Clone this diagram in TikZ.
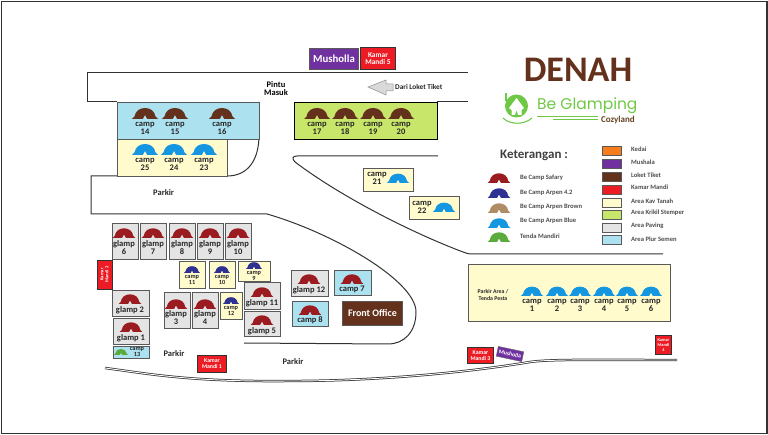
\documentclass[tikz,border=0pt]{standalone}
\usepackage{fontspec}
\setmainfont{Carlito}
\newfontfamily\logofont{Poppins}
\usetikzlibrary{positioning}
\definecolor{TenahYellow}{RGB}{255, 251, 204}
\definecolor{KrikilGreen}{RGB}{200, 230, 105}
\definecolor{PavingGray}{RGB}{228, 228, 228}
\definecolor{SemenBlue}{RGB}{172, 226, 240}
\definecolor{KedaiOrange}{RGB}{245, 125, 30}
\definecolor{MushalaPurple}{RGB}{112, 48, 160}
\definecolor{LoketBrown}{RGB}{100, 50, 28}
\definecolor{MandiRed}{RGB}{237, 28, 36}
\definecolor{TentSafary}{RGB}{155, 28, 32}
\definecolor{TentNavy}{RGB}{46, 49, 146}
\definecolor{TentTan}{RGB}{176, 140, 100}
\definecolor{TentBlue}{RGB}{20, 150, 225}
\definecolor{TentGreen}{RGB}{90, 170, 60}
\definecolor{LogoGreen}{RGB}{110, 200, 70}
\definecolor{RoadLine}{RGB}{50, 50, 50}
\tikzset{
  zone/.style={draw=black!65, line width=0.9pt, anchor=north west, inner sep=0pt},
  tag/.style={font=\bfseries\fontsize{8.5}{8}\selectfont, align=center, inner sep=0pt, text=black!85},
  tinytag/.style={font=\bfseries\fontsize{6.3}{6}\selectfont, align=center, inner sep=0pt, text=black!85},
  legendtag/.style={font=\bfseries\fontsize{6.6}{7}\selectfont, anchor=west, inner sep=0pt, text=black!70},
  mandi/.style={draw=black!80, fill=MandiRed, line width=0.9pt, text=white, align=center, inner sep=0pt,
    font=\bfseries\fontsize{5.8}{6.2}\selectfont},
  road/.style={draw=RoadLine, line width=1pt},
  tent/.pic={
    \fill[#1] (-13,0) -- (-10.5,-2.5) .. controls (-9.5,-8) and (-5.5,-11) .. (0,-11)
      .. controls (5.5,-11) and (9.5,-8) .. (10.5,-2.5) -- (13,0) -- (2.2,0) -- (0,-4) -- (-2.2,0) -- cycle;
  }
}
\begin{document}
\begin{tikzpicture}[x=1pt, y=-1pt]
  \useasboundingbox (0,0) rectangle (768,435);
  \draw[draw=black!80, line width=1.2pt] (1.5,1.5) rectangle (767,433.5);

  % roads
  \draw[road] (468,73) -- (87,73) -- (87,102) -- (117,102);
  \draw[road] (259,102) -- (259,135) .. controls (259,160) and (248,176) .. (227,176) -- (91,176) -- (91,214) -- (267,214)
    .. controls (330,232) and (416,280) .. (416,312) .. controls (416,332) and (404,344) .. (388,344) -- (244,343);
  \draw[road] (437,102) -- (468,102);
  \draw[road] (438,156) -- (297,156) .. controls (292,156) and (292,159) .. (295,162)
    .. controls (340,196) and (410,232) .. (463,252) .. controls (466,253) and (468,254) .. (472,254) -- (663,254);
  \draw[draw=RoadLine, line width=2.4pt] (105,368) .. controls (150,374) and (190,382) .. (290,381)
    .. controls (380,381) and (470,372) .. (530,362) .. controls (550,359) and (600,360) .. (677,360);
  \draw[draw=white, line width=0.9pt] (105,368) .. controls (150,374) and (190,382) .. (290,381)
    .. controls (380,381) and (470,372) .. (530,362) .. controls (550,359) and (600,360) .. (677,360);

  % top area
  \node[zone, fill=MushalaPurple, minimum width=49pt, minimum height=21pt, text=white, font=\bfseries\fontsize{10.8}{11}\selectfont] (musholla) at (309,48) {Musholla};
  \node[mandi, anchor=north west, minimum width=35pt, minimum height=22pt, font=\bfseries\fontsize{7.4}{7.4}\selectfont] (mandi5) at (360,47) {Kamar\\Mandi 5};
  \node[tag, text=black] (pintu) at (276,89) {Pintu\\Masuk};
  \draw[draw=black!45, fill=black!15, line width=0.5pt] (393,84) -- (386,84) -- (386,80) -- (368,87) -- (386,95) -- (386,91) -- (393,91) -- cycle;
  \node[tag, font=\bfseries\fontsize{7.3}{8}\selectfont, anchor=west] (dari) at (395,87) {Dari Loket Tiket};
  \node[tag, anchor=west] (parkirA) at (153,193) {Parkir};

  % camp areas
  \node[zone, fill=SemenBlue, minimum width=142pt, minimum height=37pt] (areaA) at (117,102) {};
  \node[zone, fill=TenahYellow, minimum width=110pt, minimum height=37pt] (areaB) at (117,139) {};
  \node[zone, draw=black, line width=1.2pt, fill=KrikilGreen, minimum width=143pt, minimum height=37pt] (areaC) at (294,102) {};
  \node[zone, fill=TenahYellow, minimum width=50pt, minimum height=23pt] (area21) at (363,168) {};
  \node[zone, fill=TenahYellow, minimum width=50pt, minimum height=23pt] (area22) at (409,196) {};
  \node[zone, fill=TenahYellow, minimum width=202pt, minimum height=57pt] (areaD) at (468,264) {};

  \foreach \nm/\x in {14/145,15/175,16/222} {
    \pic at (\x,119) {tent=LoketBrown};
    \node[tag] (camp\nm) at (\x,128) {camp\\\nm};
  }
  \foreach \nm/\x in {25/145,24/174,23/204} {
    \pic at (\x,155) {tent=TentBlue};
    \node[tag] (camp\nm) at (\x,164) {camp\\\nm};
  }
  \foreach \nm/\x in {17/317,18/345,19/373,20/401} {
    \pic at (\x,119) {tent=LoketBrown};
    \node[tag] (camp\nm) at (\x,128) {camp\\\nm};
  }
  \pic[scale=.85] at (398,183) {tent=TentBlue};
  \node[tag] (camp21) at (377,178) {camp\\21};
  \pic[scale=.85] at (444,212) {tent=TentBlue};
  \node[tag] (camp22) at (422,207) {camp\\22};
  \foreach \nm/\x in {1/532,2/557,3/580,4/604,5/627,6/651} {
    \pic[scale=.85] at (\x,296) {tent=TentBlue};
    \node[tag] (camp\nm) at (\x,305) {camp\\\nm};
  }
  \node[tinytag, font=\bfseries\fontsize{5.8}{6.5}\selectfont] (parkirarea) at (493,295) {Parkir Area /\\Tenda Pesta};

  % glamp boxes
  \foreach \nm/\x/\tx in {6/112/124,7/140/153,8/169/182,9/197/210,10/225/238} {
    \node[zone, fill=PavingGray, minimum width=26pt, minimum height=36pt] (box\nm) at (\x,223) {};
    \pic[scale=.88] at (\tx,238) {tent=TentSafary};
    \node[tag] (glamp\nm) at (\tx,248) {glamp\\\nm};
  }
  \foreach \nm/\x/\tx in {3/164/176,4/192/205} {
    \node[zone, fill=PavingGray, minimum width=26pt, minimum height=36pt] (box\nm) at (\x,292) {};
    \pic[scale=.88] at (\tx,309) {tent=TentSafary};
    \node[tag] (glamp\nm) at (\tx,318) {glamp\\\nm};
  }
  \foreach \nm/\x/\y/\w/\h/\tx/\ty in {2/112/290/37/26/130/304,1/113/318/36/26/131/332,11/244/282/36/27/262/297,5/244/311/36/25/262/325,12/291/270/37/26/309/284} {
    \node[zone, fill=PavingGray, minimum width=\w pt, minimum height=\h pt] (box\nm) at (\x,\y) {};
    \pic[scale=.88] at (\tx,\ty) {tent=TentSafary};
    \node[tag] (glamp\nm) at (\tx,\ty+6.5) {glamp \nm};
  }
  \foreach \nm/\x/\y/\w/\h/\tx/\ty/\ly in {11/179/261/26/27/192/273/280,10/209/261/26/27/222/273/280,9/238/261/32/20/254/269/275.5,12/220/292/22/27/231/304/311} {
    \node[zone, fill=TenahYellow, minimum width=\w pt, minimum height=\h pt] (box\nm c) at (\x,\y) {};
    \pic[scale=.62] at (\tx,\ty) {tent=TentNavy};
    \node[tinytag] (camp\nm) at (\tx,\ly) {camp\\\nm};
  }
  \node[zone, fill=SemenBlue, minimum width=36pt, minimum height=12pt] (box13) at (113,346) {};
  \pic[scale=.55] at (121,355) {tent=TentGreen};
  \node[tinytag] (camp13) at (137,352) {camp\\13};
  \foreach \nm/\x/\y/\w/\tx/\ty in {7/334/270/37/352/284,8/292/301/36/310/315} {
    \node[zone, fill=SemenBlue, minimum width=\w pt, minimum height=25pt] (box\nm s) at (\x,\y) {};
    \pic[scale=.88] at (\tx,\ty) {tent=TentSafary};
    \node[tag] (camp\nm) at (\tx,\ty+5.5) {camp \nm};
  }
  \node[zone, fill=LoketBrown, minimum width=60pt, minimum height=24pt, text=white, font=\bfseries\fontsize{10}{11}\selectfont] (frontoffice) at (342,301) {Front Office};

  % small services
  \node[mandi, rotate=90, minimum width=29pt, minimum height=15pt, font=\bfseries\fontsize{4.6}{5}\selectfont] (mandi2) at (104.5,274.5) {Kamar\\Mandi 2};
  \node[mandi, anchor=north west, minimum width=29pt, minimum height=17pt] (mandi1) at (197,355) {Kamar\\Mandi 1};
  \node[mandi, anchor=north west, minimum width=26pt, minimum height=16pt] (mandi3) at (467,347) {Kamar\\Mandi 3};
  \node[mandi, anchor=north west, minimum width=16pt, minimum height=19pt, font=\bfseries\fontsize{4.3}{4.8}\selectfont] (mandi4) at (655,335) {Kamar\\Mandi\\4};
  \node[draw=black!60, fill=MushalaPurple, rotate=-12, minimum width=26pt, minimum height=10pt, inner sep=0pt, text=white, font=\bfseries\fontsize{5.8}{6}\selectfont] (musholla2) at (510,354) {Musholla};
  \node[tag] (parkirB) at (174,354) {Parkir};
  \node[tag] (parkirC) at (293,362) {Parkir};

  % title and logo
  \node[font=\bfseries\fontsize{36}{36}\selectfont, text=LoketBrown, inner sep=0pt] (denah) at (578,70) {DENAH};
  \fill[LogoGreen] (516.5,106) circle (11.5);
  \draw[LogoGreen, line width=2pt] (506,101) -- (506,93);
  \fill[white] (516.5,98) -- (524,108) -- (521.5,110) -- (521.5,115) -- (518,115) -- (516.5,110) -- (515,115) -- (511.5,115) -- (511.5,110) -- (509,108) -- cycle;
  \draw[LogoGreen, line width=1.1pt] (503,118) .. controls (510,125) and (524,125) .. (532,118);
  \node[font=\logofont\fontsize{15.5}{16}\selectfont, text=LogoGreen, anchor=west, inner sep=0pt] (logotext) at (537,106) {Be Glamping};
  \draw[LogoGreen, line width=1pt] (537,117) -- (598,117);
  \draw[LogoGreen, line width=1pt] (553,120) -- (598,120);
  \node[font=\bfseries\fontsize{9}{9}\selectfont, text=LoketBrown!90!LogoGreen, anchor=west, inner sep=0pt] (cozyland) at (601,120) {Cozyland};

  % legend
  \node[font=\bfseries\fontsize{13}{14}\selectfont, text=black!75, anchor=west, inner sep=0pt] (keterangan) at (500,155) {Keterangan :};
  \foreach \col/\ty/\txt/\ly in {TentSafary/183/Be Camp Safary/178,TentNavy/198/Be Camp Arpen 4.2/193,TentTan/213/Be Camp Arpen Brown/207,TentBlue/228/Be Camp Arpen Blue/221,TentGreen/242/Tenda Mandiri/236} {
    \pic[scale=.88] at (499,\ty) {tent=\col};
    \node[legendtag] (leg\col) at (520,\ly) {\txt};
  }
  \foreach \col/\y/\txt/\ly in {KedaiOrange/146/Kedai/149,MushalaPurple/159/Mushala/162,LoketBrown/172/Loket Tiket/175,MandiRed/185/Kamar Mandi/187,TenahYellow/198/Area Kav Tanah/201,KrikilGreen/210/Area Krikil Stemper/213,PavingGray/223/Area Paving/226,SemenBlue/235/Area Plur Semen/239} {
    \node[zone, fill=\col, minimum width=19pt, minimum height=9pt] (swatch\col) at (602,\y) {};
    \node[legendtag] (key\col) at (631,\ly) {\txt};
  }
\end{tikzpicture}
\end{document}
